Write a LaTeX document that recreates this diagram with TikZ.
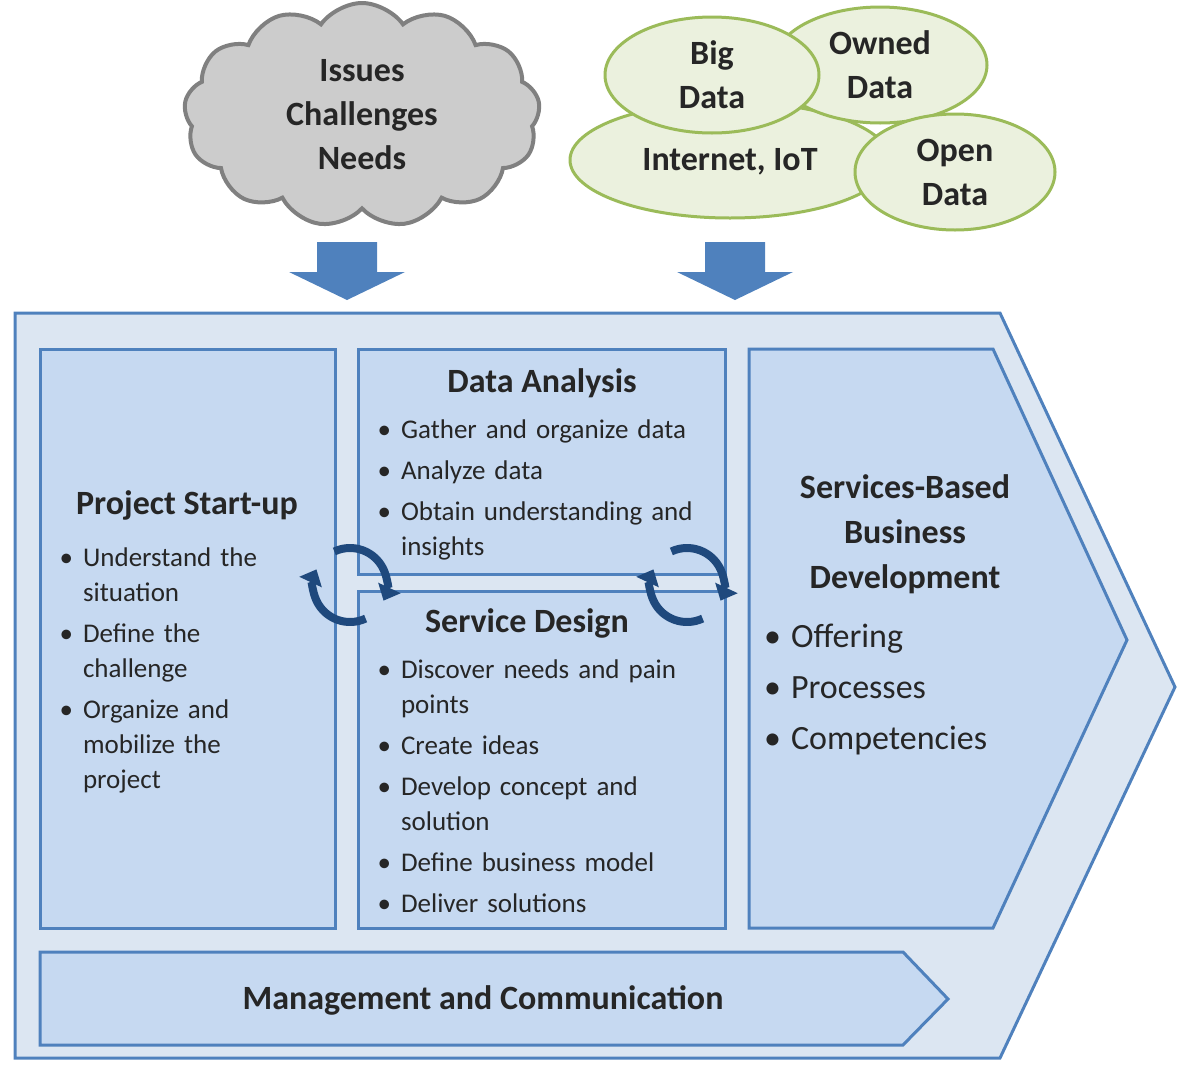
\documentclass[tikz,border=0pt]{standalone}
\usepackage{fontspec}
\setmainfont{Carlito}
\usepackage{enumitem}
\usetikzlibrary{shapes.symbols,shapes.geometric,arrows.meta}
\definecolor{frameblue}{HTML}{4F81BD}
\definecolor{paleblue}{HTML}{DCE6F2}
\definecolor{boxblue}{HTML}{C6D9F1}
\definecolor{darkblue}{HTML}{1F497D}
\definecolor{palegreen}{HTML}{EBF1DE}
\definecolor{greenline}{HTML}{9BBB59}
\definecolor{txt}{HTML}{262626}
\tikzset{phase/.style={draw=frameblue, line width=1.5pt, fill=boxblue},
  title/.style={font=\fontsize{17}{20}\selectfont\bfseries, text=txt, align=center},
  items/.style={anchor=north west, text=txt, font=\fontsize{13.5}{17.5}\selectfont},
  datablob/.style={ellipse, draw=greenline, line width=1.5pt, fill=palegreen, minimum height=58pt, inner sep=0pt, font=\fontsize{17}{22}\selectfont\bfseries, text=txt, align=center},
  downarrow/.style={fill=frameblue},
  cycle/.style={darkblue, line width=4pt, -{Triangle[length=7pt,width=12pt]}}}
\newcommand\bulletlist[1]{\begin{itemize}[leftmargin=12pt,itemsep=3pt,topsep=0pt,parsep=0pt,label=\textbullet]#1\end{itemize}}
\begin{document}
\begin{tikzpicture}[x=0.5pt,y=-0.5pt]
\useasboundingbox (0,0) rectangle (1200,1082);
% outer chevron
\draw[draw=frameblue, line width=1.5pt, fill=paleblue] (15,313) -- (1000,313) -- (1175,687) -- (1000,1058) -- (15,1058) -- cycle;
% phases
\draw[phase] (40,349) rectangle (335,928);
\draw[phase] (358,349) rectangle (725,574);
\draw[phase] (358,591) rectangle (725,928);
\draw[phase] (749,349) -- (993,349) -- (1127,640) -- (993,928) -- (749,928) -- cycle;
\draw[phase] (40,952) -- (903,952) -- (948,999) -- (903,1045) -- (40,1045) -- cycle;
% texts
\node[title] (start) at (187,505) {Project Start-up};
\node[items, text width=120pt] (startlist) at (52,524) {\bulletlist{\item Understand the situation \item Define the challenge \item Organize and mobilize the project}};
\node[title] (analysis) at (542,383) {Data Analysis};
\node[items, text width=158pt] (analysislist) at (370,396) {\bulletlist{\item Gather and organize data \item Analyze data \item Obtain understanding and insights}};
\node[title] (design) at (527,623) {Service Design};
\node[items, text width=158pt] (designlist) at (370,636) {\bulletlist{\item Discover needs and pain points \item Create ideas \item Develop concept and solution \item Define business model \item Deliver solutions}};
\node[title, font=\fontsize{17}{22.5}\selectfont\bfseries] (services) at (905,534) {Services-Based\\Business\\Development};
\node[items, font=\fontsize{17}{22}\selectfont, text width=140pt] (serviceslist) at (760,596) {\begin{itemize}[leftmargin=12pt,itemsep=3.5pt,topsep=0pt,parsep=0pt,label=\textbullet]\item Offering \item Processes \item Competencies\end{itemize}};
\node[title] (mgmt) at (483,1000) {Management and Communication};
% cycles
\foreach \cx/\name in {350/cycA, 687/cycB} {
  \coordinate (\name) at (\cx,585);
  \draw[cycle] ([shift={(-115:37)}]\name) arc[start angle=-115, end angle=25, radius=37];
  \draw[cycle] ([shift={(65:37)}]\name) arc[start angle=65, end angle=205, radius=37];
}
% inputs
\node[cloud, cloud puffs=13, cloud puff arc=110, aspect=1.5, draw=gray, line width=2pt, fill=black!20, minimum width=178pt, minimum height=112pt, font=\fontsize{17}{22}\selectfont\bfseries, text=txt, align=center] (issues) at (362,115) {Issues\\Challenges\\Needs};
\node[datablob, minimum width=160pt] (iot) at (730,160) {};
\node[font=\fontsize{17}{22}\selectfont\bfseries, text=txt] (iotlabel) at (730,162) {Internet, IoT};
\node[datablob, minimum width=107pt] (owned) at (880,65) {Owned\\Data};
\node[datablob, minimum width=107pt] (bigdata) at (712,75) {Big\\Data};
\node[datablob, minimum width=100pt] (open) at (955,172) {Open\\Data};
% arrows into the process
\foreach \ax in {347,735}
  \fill[downarrow] (\ax-30,242) -- (\ax+30,242) -- (\ax+30,272) -- (\ax+58,272) -- (\ax,300) -- (\ax-58,272) -- (\ax-30,272) -- cycle;
\end{tikzpicture}
\end{document}
